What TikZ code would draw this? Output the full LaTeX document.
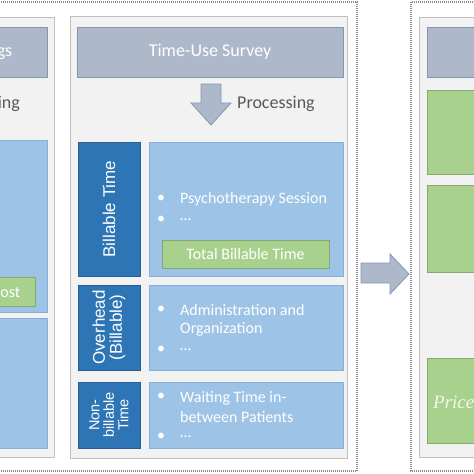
\documentclass[tikz,border=0pt]{standalone}
\usepackage{fontspec}
\setmainfont{Carlito}
\newfontfamily\formulafont{Liberation Serif}
\newfontfamily\catfont{Liberation Sans}
\usetikzlibrary{positioning}
\definecolor{frameline}{HTML}{8C8C8C}
\definecolor{panelfill}{HTML}{F2F2F2}
\definecolor{panelline}{HTML}{BFBFBF}
\definecolor{titlefill}{HTML}{ADB9CA}
\definecolor{titleline}{HTML}{8497B0}
\definecolor{catfill}{HTML}{2E75B6}
\definecolor{itemfill}{HTML}{9DC3E6}
\definecolor{itemline}{HTML}{86AEDA}
\definecolor{sumfill}{HTML}{A9D18E}
\definecolor{sumline}{HTML}{84A870}
\definecolor{labeltext}{HTML}{595959}
\definecolor{pricetext}{HTML}{F2F8EC}

\begin{document}
\begin{tikzpicture}[x=1pt, y=-1pt,
  dotframe/.style={draw=frameline, line width=2pt, dash pattern=on 1pt off 1pt},
  panel/.style={fill=panelfill, draw=panelline, line width=0.8pt},
  titlebox/.style={fill=titlefill, draw=titleline, line width=0.8pt},
  catbox/.style={fill=catfill, draw=catfill!80!black, line width=0.6pt},
  itembox/.style={fill=itemfill, draw=itemline, line width=0.8pt},
  sumbox/.style={fill=sumfill, draw=sumline, line width=0.8pt},
  blockarrow/.style={fill=titlefill, draw=titleline, line width=0.8pt},
  every node/.style={font=\fontsize{16}{18}\selectfont, inner sep=0pt},
  whitetext/.style={text=white},
  headtext/.style={font=\fontsize{18}{20}\selectfont},
  cattext/.style={text=white, rotate=90, align=center, font=\catfont\fontsize{17}{17}\selectfont}]
\useasboundingbox (0,0) rectangle (474,474);
\clip (0,0) rectangle (474,474);

% outer dotted frames
\draw[dotframe] (-40,2) rectangle (357,471);
\draw[dotframe] (411,2) rectangle (520,471);

% left panel (cut off)
\draw[panel] (-230,17) rectangle (54,457);
\draw[titlebox] (-216,27) rectangle (47,77);
\node[whitetext, headtext, anchor=east] (ltitle) at (12.5,52) {Cost Accounting Readings};
\node[headtext, text=labeltext, anchor=east] (lproc) at (20,104) {Processing};
\draw[itembox] (-216,140) rectangle (47,312);
\draw[sumbox] (-150,277) rectangle (35,306);
\node[whitetext, anchor=east] (lsum) at (20.5,291.5) {Total Cost};
\draw[itembox] (-216,318) rectangle (47,448);

% middle panel
\draw[panel] (70,16) rectangle (347,458);
\node[titlebox, minimum width=266pt, minimum height=50pt] (survey) at (210,52) {};
\node[whitetext, headtext] at (survey) {Time-Use Survey};
\filldraw[blockarrow] (201,84) -- (221,84) -- (221,103) -- (231,103) -- (211,125)
  -- (191,103) -- (201,103) -- cycle;
\node[headtext, text=labeltext, anchor=west] (mproc) at (237,104) {Processing};

% billable time
\node[catbox, minimum width=62pt, minimum height=134pt] (billcat) at (109,209) {};
\node[cattext] at (billcat) {Billable Time};
\node[itembox, minimum width=194pt, minimum height=134pt] (billitems) at (246,209) {};
\node[whitetext, anchor=west] (b1) at (157,199) {•};
\node[whitetext, anchor=west] (b1t) at (180,199) {Psychotherapy Session};
\node[whitetext, anchor=west] (b2) at (157,220) {•};
\node[whitetext, anchor=west] (b2t) at (180,220) {…};
\node[sumbox, minimum width=167pt, minimum height=28pt] (billsum) at (245.5,254) {};
\node[whitetext] at (billsum) {Total Billable Time};

% overhead
\node[catbox, minimum width=62pt, minimum height=85pt] (overcat) at (109,327.5) {};
\node[cattext] at (overcat) {Overhead\\(Billable)};
\node[itembox, minimum width=194pt, minimum height=85pt] (overitems) at (246,327.5) {};
\node[whitetext, anchor=west] (o1) at (157,310) {•};
\node[whitetext, anchor=north west, align=left] (o1t) at (180,304) {Administration and\\Organization};
\node[whitetext, anchor=west] (o2) at (157,350) {•};
\node[whitetext, anchor=west] (o2t) at (180,350) {…};

% non-billable
\node[catbox, minimum width=62pt, minimum height=66pt] (noncat) at (109,415) {};
\node[cattext, font=\catfont\fontsize{14.5}{14.5}\selectfont] at (noncat) {Non-\\billable\\Time};
\node[itembox, minimum width=194pt, minimum height=66pt] (nonitems) at (246,415) {};
\node[whitetext, anchor=west] (n1) at (157,397) {•};
\node[whitetext, anchor=north west, align=left, font=\fontsize{16}{20}\selectfont] (n1t) at (180,391) {Waiting Time in-\\between Patients};
\node[whitetext, anchor=west] (n2) at (157,437) {•};
\node[whitetext, anchor=west] (n2t) at (180,437) {…};

% arrow to the right panel
\filldraw[blockarrow] (361,263) -- (390,263) -- (390,254) -- (409,274) -- (390,294)
  -- (390,283) -- (361,283) -- cycle;

% right panel (cut off)
\draw[panel] (419,17) rectangle (520,457);
\draw[titlebox] (427,27) rectangle (520,77);
\draw[sumbox] (427,90) rectangle (520,174);
\draw[sumbox] (427,185) rectangle (520,272);
\draw[sumbox] (427,358) rectangle (520,443);
\node[text=pricetext, anchor=west, font=\formulafont\itshape\fontsize{19}{20}\selectfont] (price) at (433,402) {Price};
\end{tikzpicture}
\end{document}
